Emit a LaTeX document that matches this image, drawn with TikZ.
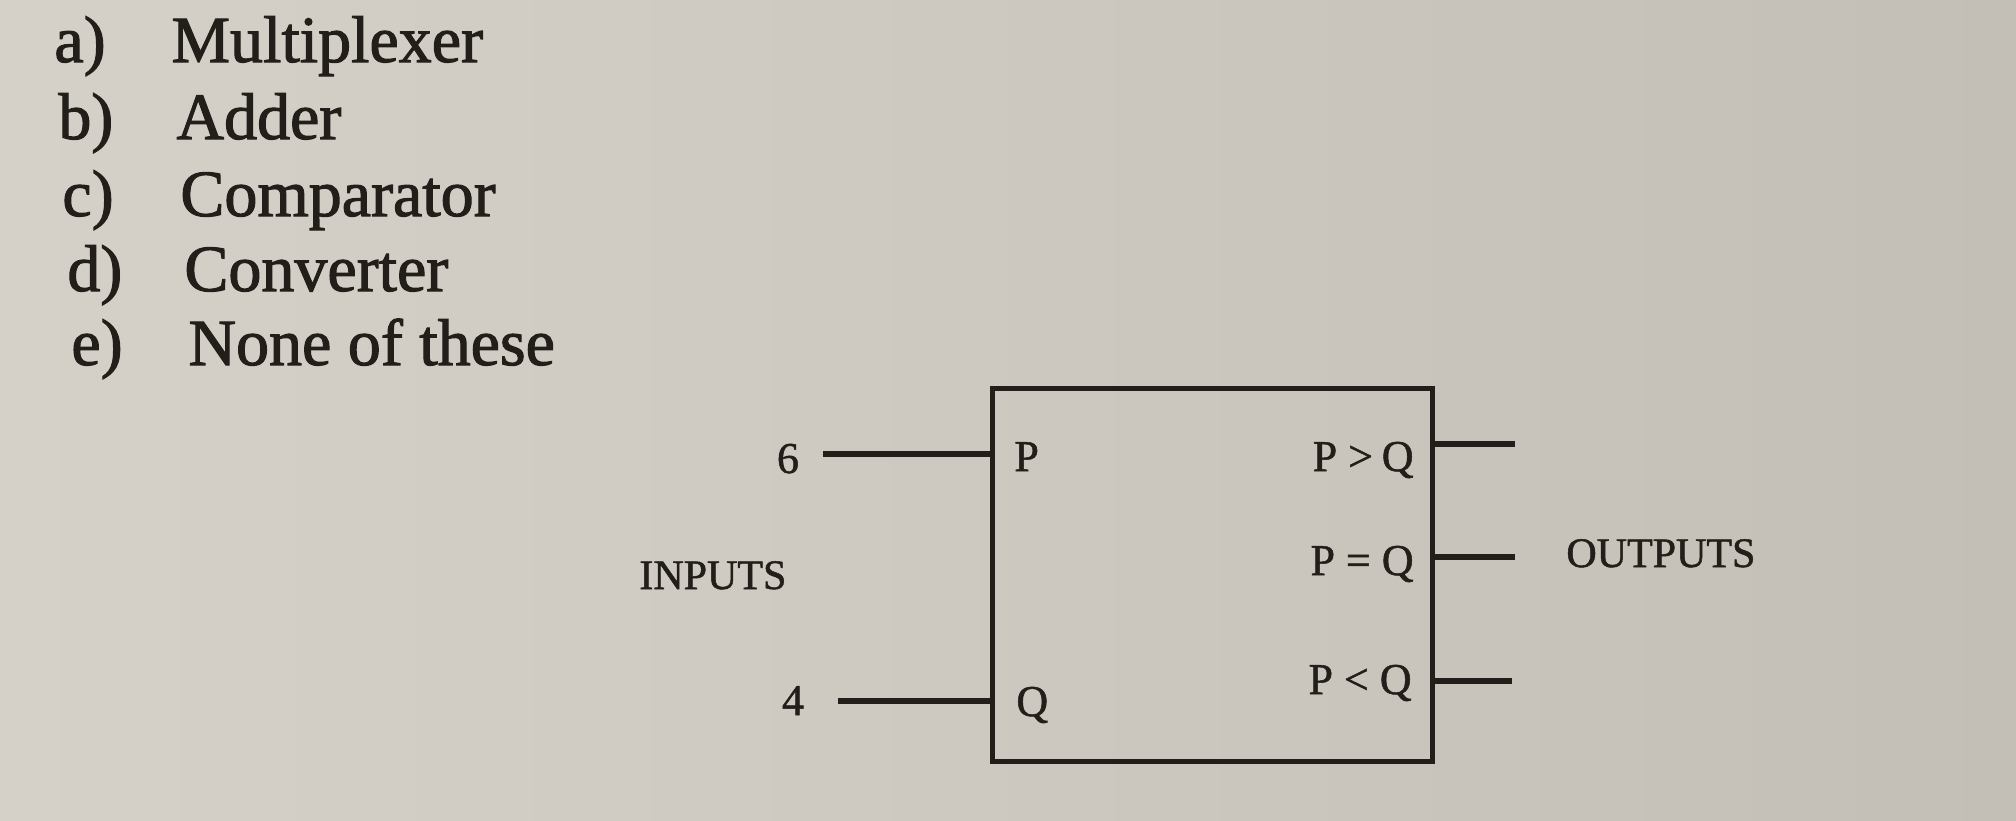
\documentclass[tikz,border=0pt]{standalone}
\usepackage{fontspec}
\setmainfont[FakeBold=1.2]{Liberation Serif}
\newfontfamily\heavyserif[FakeBold=1.6]{Liberation Serif}
\definecolor{ink}{HTML}{221E1A}
\definecolor{pageL}{HTML}{D5D1C9}
\definecolor{pageR}{HTML}{C4BFB6}
\begin{document}
\begin{tikzpicture}[x=0.5pt,y=-0.5pt,
  item/.style={anchor=base west, inner sep=0pt, text=ink, font=\heavyserif\fontsize{33}{40}\selectfont},
  lbl/.style={inner sep=0pt, text=ink, font=\fontsize{22}{26}\selectfont},
  wire/.style={draw=ink, line width=3pt},
  blk/.style={draw=ink, line width=2.6pt, minimum width=220pt, minimum height=186.5pt, inner sep=0pt, anchor=north west}]
\useasboundingbox (0,0) rectangle (2016,820);
\shade[left color=pageL, right color=pageR] (0,0) rectangle (2016,820);
% options list
\node[item] (la) at (54,62) {a)};
\node[item] (ta) at (171,62) {Multiplexer};
\node[item] (lb) at (58,139) {b)};
\node[item] (tb) at (176,139) {Adder};
\node[item] (lc) at (62,216) {c)};
\node[item] (tc) at (180,216) {Comparator};
\node[item] (ld) at (67,291) {d)};
\node[item] (td) at (184,291) {Converter};
\node[item] (le) at (71,365) {e)};
\node[item] (te) at (188,365) {None of these};
% block
\node[blk] (box) at (990,386) {};
\node[lbl, anchor=base west] (pin) at (1014,471) {P};
\node[lbl, anchor=base west] (qin) at (1016,716) {Q};
\node[lbl, anchor=base east] (gt) at (1414,471) {P\hspace{0.25em}>\hspace{0.2em}Q};
\node[lbl, anchor=base east] (eq) at (1414,575) {P\hspace{0.25em}=\hspace{0.25em}Q};
\node[lbl, anchor=base east] (lt) at (1412,694) {P\hspace{0.25em}<\hspace{0.25em}Q};
% inputs
\node[lbl, anchor=base] (six) at (788,473) {6};
\node[lbl, anchor=base] (four) at (793,715) {4};
\node[lbl, anchor=base west, font=\fontsize{21}{25}\selectfont] (inputs) at (639,589) {INPUTS};
\coordinate (w6) at (823,454);
\coordinate (w4) at (838,701);
\draw[wire] (w6) -- (w6 -| box.west);
\draw[wire] (w4) -- (w4 -| box.west);
% outputs
\node[lbl, anchor=base west, font=\fontsize{21}{25}\selectfont] (outputs) at (1566,567) {OUTPUTS};
\coordinate (o1) at (1515,444);
\coordinate (o2) at (1515,557);
\coordinate (o3) at (1512,681);
\draw[wire] (box.east |- o1) -- (o1);
\draw[wire] (box.east |- o2) -- (o2);
\draw[wire] (box.east |- o3) -- (o3);
\end{tikzpicture}
\end{document}
